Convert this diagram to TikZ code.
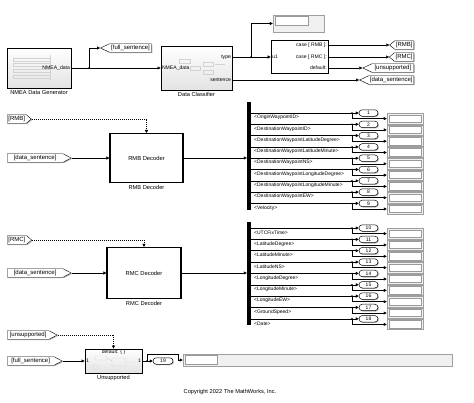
\documentclass[tikz,border=0pt]{standalone}
\usepackage{fontspec}
\setmainfont{Liberation Sans}
\usetikzlibrary{arrows.meta,shapes.symbols,shapes.misc,shadows,positioning}

\tikzset{
  sig/.style={-{Triangle[length=3pt,width=3pt]}, line width=0.45pt},
  ctrl/.style={sig, dash pattern=on 1pt off 1pt},
  shd/.style={drop shadow={shadow xshift=0.9pt, shadow yshift=-0.9pt, fill=gray!55, opacity=1}},
  blk/.style={draw, line width=1.1pt, fill=white, shd, inner sep=0pt, font=\fontsize{5.8}{6}\selectfont},
  mblk/.style={draw, line width=0.9pt, top color=white, bottom color=gray!22, shd, inner sep=0pt},
  lbl/.style={font=\fontsize{5.7}{6}\selectfont, inner sep=1pt},
  port/.style={font=\fontsize{5.1}{6}\selectfont, inner sep=1.3pt},
  buslbl/.style={font=\fontsize{5}{6}\selectfont, inner sep=0pt, anchor=west},
  tag/.style={draw, line width=0.4pt, fill=white, shd, signal, signal pointer angle=80,
    font=\fontsize{6}{7}\selectfont, inner xsep=1.2pt, inner ysep=0.8pt, minimum height=8.5pt},
  goto/.style={tag, signal to=west, anchor=east},
  from/.style={tag, signal to=east, anchor=west},
  outp/.style={draw, line width=0.5pt, rounded rectangle, fill=white, shd, minimum width=19pt,
    minimum height=6.5pt, inner sep=0pt, font=\fontsize{5}{5}\selectfont},
  disp/.style 2 args={draw=gray!75, line width=0.5pt, fill=gray!12, shd, inner sep=0pt,
    path picture={\draw[gray!80, fill=white, line width=0.4pt]
      ([shift={(1.8pt,-1.3pt)}]path picture bounding box.north west) rectangle ++(#1pt,-#2pt);}},
  bus/.style={fill=black, minimum width=4pt, inner sep=0pt},
  icon/.style={draw=gray!35, line width=0.4pt},
}

\begin{document}
\begin{tikzpicture}[x=1pt, y=-1pt]
  \fill[white] (0,0) rectangle (474,402);
  \useasboundingbox (0,0) rectangle (474,402);

  % top row
  \node[mblk, minimum width=64pt, minimum height=40pt] (gen) at (39,68) {};
  \foreach \yy in {58,63,69,75} \draw[icon] (13,\yy) rectangle (50,\yy+3);
  \draw[icon] (50,55) -- (50,80);
  \node[port, anchor=east] at (gen.east) {NMEA\_data};
  \node[lbl, below=1pt of gen] {NMEA Data Generator};

  \node[mblk, minimum width=71pt, minimum height=44pt] (cls) at (196.5,68) {};
  \draw[icon] (179,59) rectangle (190,63) (190,66) rectangle (200,70)
    (203,62) rectangle (213,66) (203,70) rectangle (213,74) (215,64) -- (225,64);
  \node[port, anchor=west] at (cls.west) {NMEA\_data};
  \node[port, anchor=east] at (cls.east |- 0,57) {type};
  \node[port, anchor=east] at (cls.east |- 0,80) {sentence};
  \node[lbl, below=1pt of cls] {Data Classifier};

  \node[draw, line width=0.6pt, fill=white, shd, minimum width=57pt, minimum height=33pt] (sw) at (299.5,57) {};
  \node[port, anchor=west] at (sw.west) {u1};
  \node[port, anchor=east] at (sw.east |- 0,45) {case [ RMB ]:};
  \node[port, anchor=east] at (sw.east |- 0,57) {case [ RMC ]:};
  \node[port, anchor=east] at (sw.east |- 0,68) {default:};

  \node[disp={33}{9}, minimum width=51pt, minimum height=17pt] (dtop) at (298.5,23.5) {};

  \node[goto, anchor=west, signal pointer angle=50, minimum width=51pt] (gFull) at (100,48) {[full\_sentence]};
  \node[goto, minimum width=22pt] (gRMB) at (414,45) {[RMB]};
  \node[goto, minimum width=22pt] (gRMC) at (414,57) {[RMC]};
  \node[goto, signal pointer angle=50, minimum width=51pt] (gUns) at (414,68) {[unsupported]};
  \node[goto, signal pointer angle=50, minimum width=51pt] (gData) at (414,80) {[data\_sentence]};

  \coordinate (j1) at (89,68);
  \coordinate (j2) at (251,57);
  \draw[sig] (gen.east) -- (cls.west);
  \draw[sig] (j1) |- (gFull.west);
  \draw[sig] (cls.east |- sw.west) -- (sw.west);
  \draw[sig] (j2) |- (dtop.west);
  \fill (j1) circle (1pt) (j2) circle (1pt);
  \draw[sig] (sw.east |- gRMB) -- (gRMB.west);
  \draw[sig] (sw.east |- gRMC) -- (gRMC.west);
  \draw[sig] (sw.east |- gUns) -- (gUns.west);
  \draw[sig] (cls.east |- gData) -- (gData.west);

  % RMB decoder
  \node[from] (fRMB) at (7,119) {[RMB]};
  \node[from, signal pointer angle=55, minimum width=64pt] (fData1) at (7,158) {[data\_sentence]};
  \node[blk, minimum width=73pt, minimum height=49pt] (rmb) at (146.5,158) {RMB Decoder};
  \node[lbl, below=1pt of rmb] {RMB Decoder};
  \node[bus, minimum height=108pt] (bs1) at (249,156) {};
  \draw[ctrl] (fRMB.east) -| (rmb.north);
  \draw[sig] (fData1.east) -- (fData1.east -| rmb.west);
  \draw[sig] (rmb.east) -- (rmb.east -| bs1.west);

  \foreach \s [count=\i] in {OriginWaypointID,DestinationWaypointID,DestinationWaypointLatitudeDegree,
      DestinationWaypointLatitudeMinute,DestinationWaypointNS,DestinationWaypointLongitudeDegree,
      DestinationWaypointLongitudeMinute,DestinationWaypointEW,Velocity}{
    \pgfmathsetmacro\yy{113+(\i-1)*11.3}
    \node[outp] (o\i) at (368.5,\yy) {\i};
    \node[disp={32.4}{7.4}, minimum width=36pt, minimum height=10.3pt] (d\i) at (405,\yy+5.6) {};
    \coordinate (b\i) at (352,\yy);
    \draw[sig] (bs1.east |- b\i) -- (o\i.west);
    \draw[sig] (b\i) |- (d\i.west);
    \fill (b\i) circle (0.9pt);
    \node[buslbl] at (254,\yy+4.5) {<\s>};
  }

  % RMC decoder
  \node[from] (fRMC) at (7,240) {[RMC]};
  \node[from, signal pointer angle=55, minimum width=64pt] (fData2) at (7,273) {[data\_sentence]};
  \node[blk, minimum width=74pt, minimum height=51pt] (rmc) at (144,273) {RMC Decoder};
  \node[lbl, below=1pt of rmc] {RMC Decoder};
  \node[bus, minimum height=103pt] (bs2) at (249,273.5) {};
  \draw[ctrl] (fRMC.east) -| (rmc.north);
  \draw[sig] (fData2.east) -- (fData2.east -| rmc.west);
  \draw[sig] (rmc.east) -- (rmc.east -| bs2.west);

  \foreach \s [count=\i from 10] in {UTCFixTime,LatitudeDegree,LatitudeMinute,LatitudeNS,
      LongitudeDegree,LongitudeMinute,LongitudeEW,GroundSpeed,Date}{
    \pgfmathsetmacro\yy{228+(\i-10)*11.35}
    \node[outp] (o\i) at (368.5,\yy) {\i};
    \node[disp={32.4}{7.4}, minimum width=36pt, minimum height=10.3pt] (d\i) at (405,\yy+5.6) {};
    \coordinate (b\i) at (352,\yy);
    \draw[sig] (bs2.east |- b\i) -- (o\i.west);
    \draw[sig] (b\i) |- (d\i.west);
    \fill (b\i) circle (0.9pt);
    \node[buslbl] at (254,\yy+4.5) {<\s>};
  }

  % unsupported
  \node[from, signal pointer angle=55, minimum width=50pt] (fUns) at (7,335) {[unsupported]};
  \node[from, signal pointer angle=55, minimum width=55pt] (fFull) at (7,361) {[full\_sentence]};
  \node[mblk, minimum width=57pt, minimum height=24pt] (uns) at (113.5,361) {};
  \draw[icon] (95,356) rectangle (107,360) (112,358) rectangle (126,366)
    (93,365) rectangle (99,369) (107,358) -- (112,361) (126,362) -- (134,362);
  \node[port, anchor=north, inner sep=0.8pt] at (uns.north) {default: \{ \}};
  \node[port, anchor=west] at (uns.west) {1};
  \node[port, anchor=east] at (uns.east) {1};
  \node[lbl, below=1pt of uns] {Unsupported};
  \draw[ctrl] (fUns.east) -| (uns.north);
  \draw[sig] (fFull.east) -- (fFull.east -| uns.west);

  \node[outp, minimum width=20pt] (o19) at (163,361) {19};
  \node[disp={32}{9}, minimum width=269pt, minimum height=12pt] (d19) at (317.5,360) {};
  \coordinate (j3) at (147,361);
  \coordinate (k19) at (178,354);
  \draw[sig] (uns.east) -- (o19.west);
  \draw[sig] (j3) |- (k19) |- (d19.west);
  \fill (j3) circle (1pt);

  \node[lbl] (copy) at (230,392) {Copyright 2022 The MathWorks, Inc.};
\end{tikzpicture}
\end{document}
